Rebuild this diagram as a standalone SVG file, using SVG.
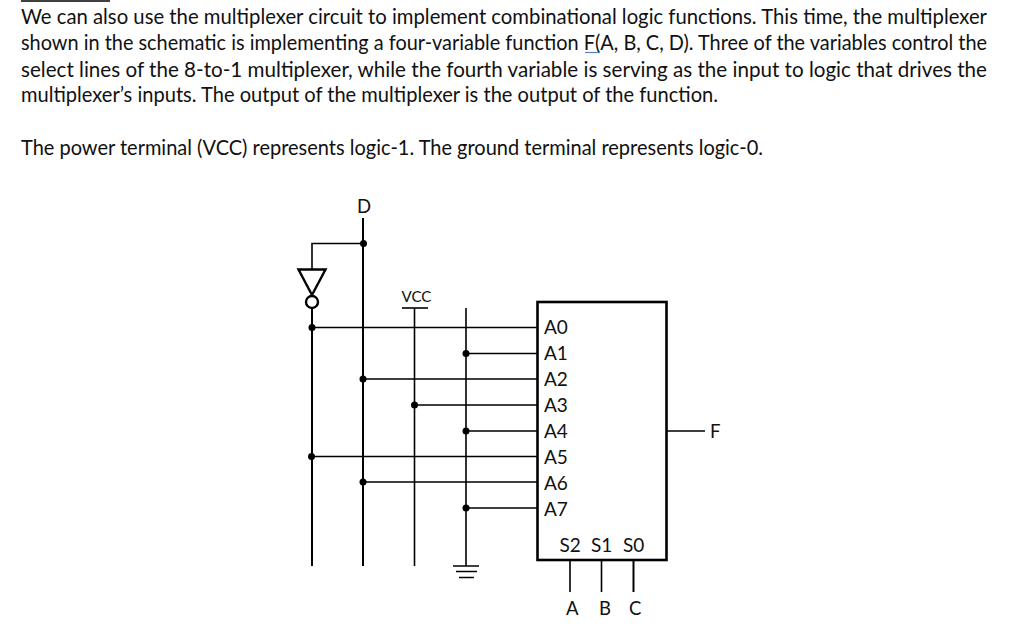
<svg xmlns="http://www.w3.org/2000/svg" width="1024" height="644" viewBox="0 0 1024 644">
<style>
text{font-family:"Lato","Open Sans","Liberation Sans",sans-serif;fill:#111}
.p{font-size:20.500px}
.l{font-size:19px}
.w{stroke:#000;stroke-width:1.600;fill:none}
.t{stroke:#000;stroke-width:2;fill:none}
.d{fill:#000;stroke:none}
</style>
<rect width="1024" height="644" fill="#fff"/>
<g id="prose">
<path d="M21 1H110" stroke="#000" stroke-width="1.500"/>
<text class="p" x="21" y="23.500" textLength="966" lengthAdjust="spacingAndGlyphs">We can also use the multiplexer circuit to implement combinational logic functions. This time, the multiplexer</text>
<text class="p" x="21" y="50" textLength="966" lengthAdjust="spacingAndGlyphs">shown in the schematic is implementing a four-variable function F(A, B, C, D). Three of the variables control the</text>
<text class="p" x="21" y="76.500" textLength="966" lengthAdjust="spacingAndGlyphs">select lines of the 8-to-1 multiplexer, while the fourth variable is serving as the input to logic that drives the</text>
<text class="p" x="21" y="102" textLength="697" lengthAdjust="spacingAndGlyphs">multiplexer’s inputs. The output of the multiplexer is the output of the function.</text>
<text class="p" x="21" y="155" textLength="742" lengthAdjust="spacingAndGlyphs">The power terminal (VCC) represents logic-1. The ground terminal represents logic-0.</text>
<path d="M585 52.500H600" stroke="#5b7fc4" stroke-width="1.200"/>
</g>
<g id="connectors">
<path class="t" d="M363 218V566"/>
<path class="w" d="M363 243.500H312V269"/>
<path class="t" d="M312 308V566"/>
<path class="w" d="M414.500 308V566"/>
<path class="w" d="M466 308V566"/>
<path class="w" d="M312 327.500H538M466 353.500H538M363 379H538M414.500 405H538M466 431H538M312 456.500H538M363 482H538M466 508H538"/>
<path class="w" d="M667 431H705M570 560V592M601.500 560V592"/>
<path class="t" d="M633.500 560V592"/>
<g class="d">
<circle cx="363.500" cy="243.500" r="3.500"/><circle cx="312" cy="327.500" r="3.500"/>
<circle cx="466" cy="353.500" r="3.500"/><circle cx="363" cy="379" r="3.500"/>
<circle cx="414.500" cy="405" r="3.500"/><circle cx="466" cy="431" r="3.500"/>
<circle cx="311.500" cy="456.500" r="3.500"/><circle cx="363" cy="482" r="3.500"/>
<circle cx="466" cy="508" r="3.500"/>
</g>
</g>
<g id="inverter">
<path d="M298.500 269.500H325.500L312 295Z" fill="none" stroke="#000" stroke-width="2.400"/>
<circle cx="312" cy="302" r="6" fill="none" stroke="#000" stroke-width="2.400"/>
</g>
<g id="vcc">
<path class="w" d="M402 308H428"/>
<text x="401.500" y="302" font-size="16" textLength="30" lengthAdjust="spacingAndGlyphs">VCC</text>
</g>
<g id="ground">
<path class="w" d="M453 566H479M456 571.500H477M459 577.500H474"/>
</g>
<g id="mux">
<rect x="537.500" y="302" width="129" height="258" fill="#fff" stroke="#000" stroke-width="2.600"/>
<text class="l" x="544" y="333.500">A0</text>
<text class="l" x="544" y="359.500">A1</text>
<text class="l" x="544" y="385.500">A2</text>
<text class="l" x="544" y="411.500">A3</text>
<text class="l" x="544" y="437.500">A4</text>
<text class="l" x="544" y="463.500">A5</text>
<text class="l" x="544" y="489.500">A6</text>
<text class="l" x="544" y="515.500">A7</text>
<text class="l" x="559.500" y="551.500">S2</text>
<text class="l" x="591" y="551.500">S1</text>
<text class="l" x="623" y="551.500">S0</text>
</g>
<g id="labels">
<text x="357" y="212.500" font-size="18.500">D</text>
<text x="710" y="437.500" font-size="18.500">F</text>
<text x="566" y="615" font-size="18.500">A</text>
<text x="599" y="615" font-size="18.500">B</text>
<text x="629" y="615" font-size="18.500">C</text>
</g>
</svg>
